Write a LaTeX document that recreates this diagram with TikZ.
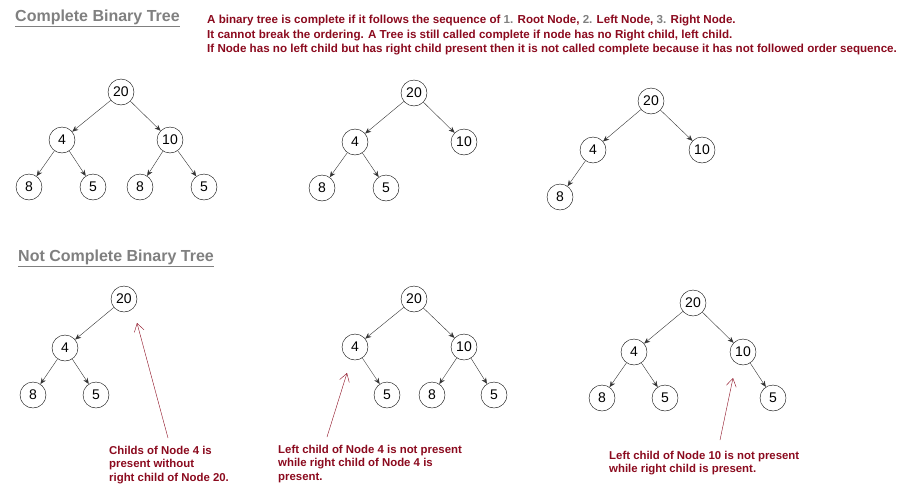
\documentclass[tikz,border=0pt]{standalone}
\usepackage{fontspec}
\setmainfont{Liberation Sans}
\usetikzlibrary{arrows.meta}
\definecolor{dred}{HTML}{8B0A1E}
\definecolor{ttl}{HTML}{808080}
\tikzset{
 tn/.style={circle,draw,minimum size=26pt,inner sep=0pt,font=\fontsize{14pt}{14pt}\selectfont},
 ed/.style={-{Stealth[length=6pt,width=5pt]},black!80},
 ptr/.style={-{Straight Barb[length=8pt,width=10pt]},dred},
 note/.style={anchor=north west,align=left,text=dred,font=\bfseries\fontsize{11.4pt}{13.5pt}\selectfont,inner sep=0pt},
 title/.style={anchor=west,inner sep=0pt,text=ttl,font=\bfseries\fontsize{16pt}{16pt}\selectfont},
}
\begin{document}
\begin{tikzpicture}[x=1pt,y=-1pt]
\useasboundingbox (0,0) rectangle (902,498);
\node[title] (t1) at (15,18) {\underline{Complete Binary Tree}};
\node[title] (t2) at (18,258) {\underline{Not Complete Binary Tree}};
\node[note,font=\bfseries\fontsize{11.6pt}{14.5pt}\selectfont] (hd) at (207,15) {A binary tree is complete if it follows the sequence of \textcolor{ttl}{1.} Root Node, \textcolor{ttl}{2.} Left Node, \textcolor{ttl}{3.} Right Node.\\
It cannot break the ordering. A Tree is still called complete if node has no Right child, left child.\\
If Node has no left child but has right child present then it is not called complete because it has not followed order sequence.};
% tree 1
\node[tn] (a0) at (121,92) {20};
\node[tn] (a1) at (62,140) {4};
\node[tn] (a2) at (170,140) {10};
\node[tn] (a3) at (29,187) {8};
\node[tn] (a4) at (93,187) {5};
\node[tn] (a5) at (140,187) {8};
\node[tn] (a6) at (204,187) {5};
\draw[ed] (a0)--(a1); \draw[ed] (a0)--(a2); \draw[ed] (a1)--(a3); \draw[ed] (a1)--(a4); \draw[ed] (a2)--(a5); \draw[ed] (a2)--(a6);
% tree 2
\node[tn] (b0) at (414,93) {20};
\node[tn] (b1) at (355,142) {4};
\node[tn] (b2) at (464,142) {10};
\node[tn] (b3) at (322,188) {8};
\node[tn] (b4) at (386,188) {5};
\draw[ed] (b0)--(b1); \draw[ed] (b0)--(b2); \draw[ed] (b1)--(b3); \draw[ed] (b1)--(b4);
% tree 3
\node[tn] (c0) at (651,101) {20};
\node[tn] (c1) at (593,150) {4};
\node[tn] (c2) at (702,150) {10};
\node[tn] (c3) at (560,197) {8};
\draw[ed] (c0)--(c1); \draw[ed] (c0)--(c2); \draw[ed] (c1)--(c3);
% tree 4
\node[tn] (d0) at (124,299) {20};
\node[tn] (d1) at (65,348) {4};
\node[tn] (d3) at (33,395) {8};
\node[tn] (d4) at (96,395) {5};
\draw[ed] (d0)--(d1); \draw[ed] (d1)--(d3); \draw[ed] (d1)--(d4);
% tree 5
\node[tn] (e0) at (414,299) {20};
\node[tn] (e1) at (355,347) {4};
\node[tn] (e2) at (464,347) {10};
\node[tn] (e4) at (387,395) {5};
\node[tn] (e5) at (432,395) {8};
\node[tn] (e6) at (494,395) {5};
\draw[ed] (e0)--(e1); \draw[ed] (e0)--(e2); \draw[ed] (e1)--(e4); \draw[ed] (e2)--(e5); \draw[ed] (e2)--(e6);
% tree 6
\node[tn] (f0) at (693,303) {20};
\node[tn] (f1) at (634,352) {4};
\node[tn] (f2) at (743,352) {10};
\node[tn] (f3) at (602,398) {8};
\node[tn] (f4) at (665,398) {5};
\node[tn] (f6) at (773,398) {5};
\draw[ed] (f0)--(f1); \draw[ed] (f0)--(f2); \draw[ed] (f1)--(f3); \draw[ed] (f1)--(f4); \draw[ed] (f2)--(f6);
% notes
\node[note] (n1) at (109,446) {Childs of Node 4 is\\present without\\right child of Node 20.};
\node[note] (n2) at (278,445) {Left child of Node 4 is not present\\while right child of Node 4 is\\present.};
\node[note] (n3) at (609,451) {Left child of Node 10 is not present\\while right child is present.};
\coordinate (p1) at (168,438); \coordinate (q1) at (137,323);
\coordinate (p2) at (327,437); \coordinate (q2) at (347,373);
\coordinate (p3) at (720,440); \coordinate (q3) at (733,378);
\draw[ptr] (p1)--(q1); \draw[ptr] (p2)--(q2); \draw[ptr] (p3)--(q3);
\end{tikzpicture}
\end{document}
